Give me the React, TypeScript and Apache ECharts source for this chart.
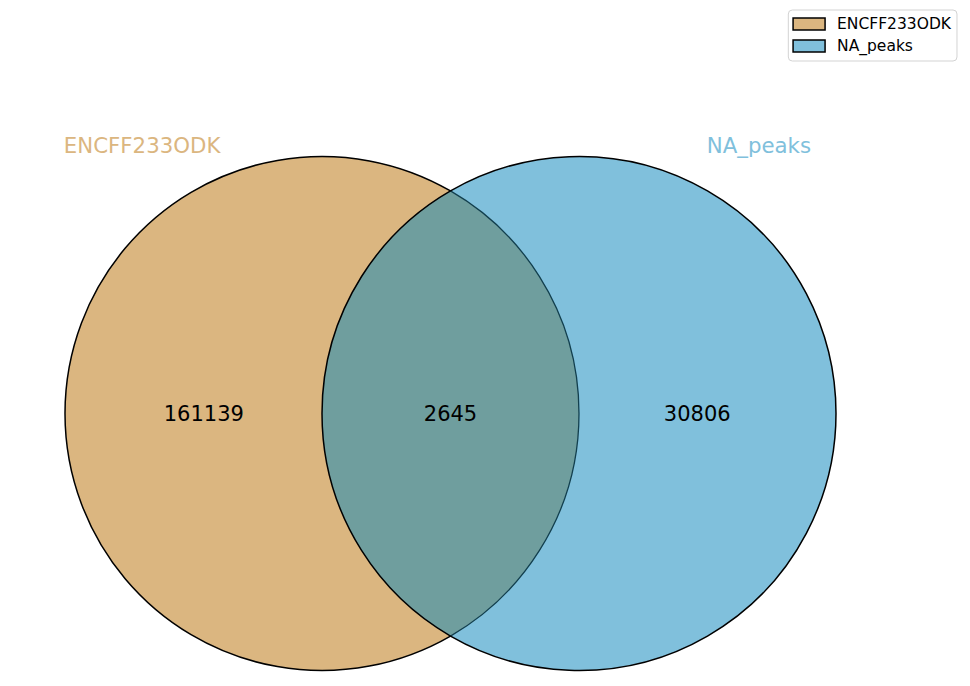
import React, { useEffect, useRef } from "react";
import * as echarts from "echarts";

// ---- data ----
const setNames = ["ENCFF233ODK", "NA_peaks"];
const setColors = ["#DBB680", "#80C0DC"];
const overlapColor = "#6F9E9E";
const regionNames = ["ENCFF233ODK only", "ENCFF233ODK & NA_peaks", "NA_peaks only"];
const regionCounts = [161139, 2645, 30806];

// ---- layout (unweighted 2-set venn, unit radius) ----
const circleCenters = [-0.5, 0.5];
const circleRadius = 1;
const regionLabelX = [-0.96, 0, 0.96];
const setLabelX = [-1.2, 1.2];
const setLabelY = 1.043;
const FONT = "DejaVu Sans";

export default function App() {
  const ref = useRef<HTMLDivElement>(null);
  useEffect(() => {
    if (!ref.current) return;
    const chart = echarts.init(ref.current, null, { renderer: "svg" });

    const circleSeries = setNames.map((name, i) => ({
      type: "custom",
      name,
      coordinateSystem: "cartesian2d",
      z: 1 + i,
      itemStyle: { color: setColors[i] },
      data: [[circleCenters[i], 0, circleRadius]],
      renderItem: (params: any, api: any) => {
        const c = api.coord([api.value(0), api.value(1)]);
        const r = api.size([api.value(2), 0])[0];
        return {
          type: "circle",
          shape: { cx: c[0], cy: c[1], r },
          style: { fill: setColors[i], stroke: "none" },
        };
      },
    }));

    const overlapSeries = {
      type: "custom",
      name: "overlap",
      coordinateSystem: "cartesian2d",
      z: 5,
      data: [[circleCenters[0], circleCenters[1], 0, circleRadius]],
      renderItem: (params: any, api: any) => {
        const a = api.coord([api.value(0), api.value(2)]);
        const b = api.coord([api.value(1), api.value(2)]);
        const r = api.size([api.value(3), 0])[0];
        const d = b[0] - a[0];
        const th = Math.acos(d / (2 * r));
        const x1 = a[0] + r * Math.cos(-th);
        const y1 = a[1] + r * Math.sin(-th);
        const x2 = a[0] + r * Math.cos(th);
        const y2 = a[1] + r * Math.sin(th);
        const pathData = `M ${x1} ${y1} A ${r} ${r} 0 0 1 ${x2} ${y2} A ${r} ${r} 0 0 1 ${x1} ${y1} Z`;
        return {
          type: "group",
          children: [
            {
              type: "path",
              shape: { pathData },
              style: { fill: overlapColor, stroke: "none" },
            },
            {
              type: "arc",
              shape: { cx: a[0], cy: a[1], r, startAngle: th, endAngle: 2 * Math.PI - th, clockwise: true },
              style: { fill: "none", stroke: "#000", lineWidth: 1.5 },
            },
            {
              type: "arc",
              shape: { cx: a[0], cy: a[1], r, startAngle: -th, endAngle: th, clockwise: true },
              style: { fill: "none", stroke: "#123f4e", lineWidth: 1.3 },
            },
            {
              type: "circle",
              shape: { cx: b[0], cy: b[1], r },
              style: { fill: "none", stroke: "#000", lineWidth: 1.5 },
            },
          ],
        };
      },
    };

    const countSeries = {
      type: "custom",
      name: "counts",
      coordinateSystem: "cartesian2d",
      z: 10,
      data: regionCounts.map((v, i) => [regionLabelX[i], 0, v, regionNames[i]]),
      renderItem: (params: any, api: any) => {
        const c = api.coord([api.value(0), api.value(1)]);
        return {
          type: "text",
          x: c[0],
          y: c[1],
          style: {
            text: String(api.value(2)),
            fill: "#000",
            font: `21px '${FONT}'`,
            align: "center",
            verticalAlign: "middle",
          },
        };
      },
    };

    const setLabelSeries = {
      type: "custom",
      name: "setLabels",
      coordinateSystem: "cartesian2d",
      z: 10,
      data: setNames.map((n, i) => [setLabelX[i], setLabelY, i]),
      renderItem: (params: any, api: any) => {
        const c = api.coord([api.value(0), api.value(1)]);
        const i = api.value(2);
        return {
          type: "text",
          x: c[0],
          y: c[1],
          style: {
            text: setNames[i],
            fill: setColors[i],
            font: `21.3px '${FONT}'`,
            align: "center",
            verticalAlign: "middle",
          },
        };
      },
    };

    chart.setOption({
      animation: false,
      backgroundColor: "#fff",
      textStyle: { fontFamily: FONT },
      grid: { left: 65, right: 134, top: 157, bottom: 16 },
      xAxis: { type: "value", min: -1.5, max: 1.5, show: false },
      yAxis: { type: "value", min: -1, max: 1, show: false },
      legend: {
        data: setNames,
        orient: "vertical",
        right: 13,
        top: 10,
        icon: "rect",
        itemWidth: 32,
        itemHeight: 12,
        itemGap: 4,
        padding: [5, 6, 6, 4],
        backgroundColor: "rgba(255,255,255,0.8)",
        borderColor: "#d3d3d3",
        borderWidth: 1,
        borderRadius: 4,
        itemStyle: { borderColor: "#000", borderWidth: 1.5 },
        textStyle: { fontFamily: FONT, fontSize: 15.5, color: "#000", lineHeight: 18, padding: [0, 0, 0, 7] },
        selectedMode: false,
      },
      series: [...circleSeries, overlapSeries, countSeries, setLabelSeries],
    } as any);
    return () => chart.dispose();
  }, []);
  return (
    <div
      ref={ref}
      style={{ position: "fixed", left: 0, top: 0, width: 970, height: 686, background: "#fff" }}
    />
  );
}
